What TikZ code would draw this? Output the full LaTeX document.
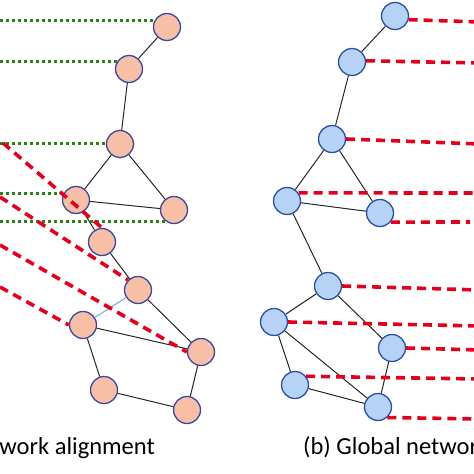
\documentclass[tikz,border=0pt]{standalone}
\usepackage{fontspec}
\setmainfont{Carlito}
\definecolor{lfill}{RGB}{247,191,166}
\definecolor{lborder}{RGB}{60,70,160}
\definecolor{rfill}{RGB}{182,210,245}
\definecolor{rborder}{RGB}{40,80,160}
\definecolor{dred}{RGB}{225,0,30}
\definecolor{dgreen}{RGB}{40,130,20}
\definecolor{ledge}{RGB}{120,165,225}
\begin{document}
\begin{tikzpicture}[x=1pt,y=-1pt,
  lnode/.style={circle, draw=lborder, fill=lfill, line width=1.3pt, minimum size=27pt, inner sep=0pt},
  rnode/.style={circle, draw=rborder, fill=rfill, line width=1.3pt, minimum size=27pt, inner sep=0pt},
  edgeline/.style={draw=black!85, line width=1pt},
  reddash/.style={draw=dred, line width=3.6pt, dash pattern=on 9pt off 6pt},
  greendot/.style={draw=dgreen, line width=3pt, dash pattern=on 3pt off 3pt},
  captext/.style={font=\fontsize{24.5}{29}\selectfont, inner sep=0pt}]
\useasboundingbox (0,0) rectangle (474,474);
\clip (0,0) rectangle (474,474);
% left graph nodes
\node[lnode] (L1) at (167,27) {};
\node[lnode] (L2) at (129,69) {};
\node[lnode] (L3) at (120,144) {};
\node[lnode] (L4) at (76,200) {};
\node[lnode] (L5) at (174,210) {};
\node[lnode] (L6) at (102,242) {};
\node[lnode] (L7) at (138,290) {};
\node[lnode] (L8) at (83,325) {};
\node[lnode] (L9) at (201,352) {};
\node[lnode] (L10) at (104,390) {};
\node[lnode] (L11) at (187,410) {};
% right graph nodes
\node[rnode] (R1) at (395,16) {};
\node[rnode] (R2) at (352,62) {};
\node[rnode] (R3) at (332,139) {};
\node[rnode] (R4) at (287,201) {};
\node[rnode] (R5) at (380,213) {};
\node[rnode] (R6) at (328,286) {};
\node[rnode] (R7) at (274,322) {};
\node[rnode] (R8) at (392,348) {};
\node[rnode] (R9) at (295,385) {};
\node[rnode] (R10) at (378,407) {};
% edges
\draw[edgeline] (L1) -- (L2) (L2) -- (L3) (L3) -- (L4) (L3) -- (L5) (L4) -- (L5)
  (L4) -- (L6) (L6) -- (L7) (L7) -- (L9) (L8) -- (L9) (L8) -- (L10) (L10) -- (L11) (L11) -- (L9);
\draw[draw=ledge, line width=1pt] (L7) -- (L8);
\draw[edgeline] (R1) -- (R2) (R2) -- (R3) (R3) -- (R4) (R3) -- (R5) (R4) -- (R5)
  (R4) -- (R6) (R6) -- (R7) (R6) -- (R8) (R7) -- (R9) (R7) -- (R10) (R9) -- (R10) (R8) -- (R10);
% green dotted alignment lines (left)
\coordinate (g1) at (0,20);
\coordinate (g2) at (0,61);
\coordinate (g3) at (0,143);
\coordinate (g4) at (0,193);
\coordinate (g5) at (0,221);
\draw[greendot] (g1) -- (g1 -| L1.148);
\draw[greendot] (g2) -- (g2 -| L2.142);
\draw[greendot] (g3) -- (g3 -| L3.west);
\draw[greendot] (g4) -- (g4 -| L4.148);
\draw[greendot] (g5) -- (g5 -| L5.238);
% red dashed lines (left)
\coordinate (a0) at (3,143);
\coordinate (a1) at (0,197);
\coordinate (a2) at (0,245);
\coordinate (a3) at (0,287);
\draw[reddash] (a0) -- (L6.north);
\draw[reddash] (a1) -- (L7.north west);
\draw[reddash] (a2) -- (L9.west);
\draw[reddash] (a3) -- (L8.west);
% red dashed lines (right)
\coordinate (e1) at (480,22);
\coordinate (e2) at (480,63);
\coordinate (e3) at (480,144);
\coordinate (e4) at (480,193);
\coordinate (e5) at (470,222);
\coordinate (e6) at (480,290);
\coordinate (e7) at (480,326);
\coordinate (e8) at (480,350);
\coordinate (e9) at (480,379);
\coordinate (e10) at (480,419);
\draw[reddash] (R1.-15) -- (e1);
\draw[reddash] (R2.5) -- (e2);
\draw[reddash] (R3.east) -- (e3);
\draw[reddash] (R4.35) -- (e4);
\draw[reddash] (R5.-40) -- (e5);
\draw[reddash] (R6.east) -- (e6);
\draw[reddash] (R7.east) -- (e7);
\draw[reddash] (R8.east) -- (e8);
\draw[reddash] (R9.38) -- (e9);
\draw[reddash] (R10.-48) -- (e10);
% captions
\node[captext, anchor=base east] (capa) at (155,454) {twork alignment};
\node[captext, anchor=base west] (capb) at (303,454) {(b) Global networ};
\end{tikzpicture}
\end{document}
